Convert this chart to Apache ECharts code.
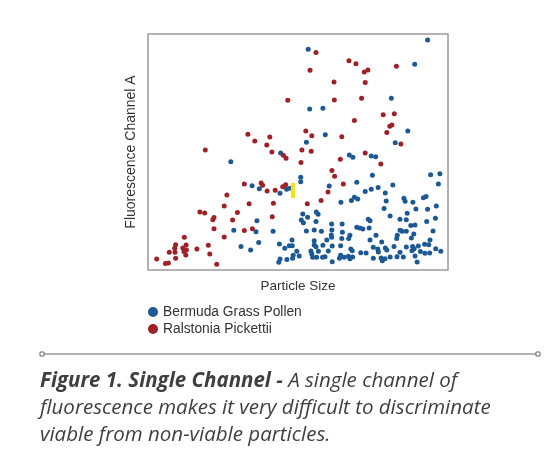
<!DOCTYPE html>
<html>
<head>
<meta charset="utf-8">
<script src="https://cdn.jsdelivr.net/npm/echarts@6/dist/echarts.min.js"></script>
<style>
html,body{margin:0;padding:0;background:#fff;}
#chart{width:558px;height:463px;}
</style>
</head>
<body>
<div id="chart"></div>
<script>
// Series names
var seriesNames = ['Bermuda Grass Pollen', 'Ralstonia Pickettii'];
var axisNames = ['Particle Size', 'Fluorescence Channel A'];

// [particle size, fluorescence] on an unlabeled 0-100 scale
var bermudaPoints = [
[44.2,49.6],[93.2,97.5],[53.4,93.5],[88.9,87.2],[81.1,72.8],[53.9,68.2],[58.3,68.5],[86.6,58.9],[59.1,57.3],[52.8,54.1],
[82.4,53.9],[67.1,48.7],[68.3,47.8],[74.4,48.3],[75.9,48.0],[27.6,45.9],[34.7,35.7],[37.1,34.4],[44.0,32.5],[46.2,34.2],
[47.3,34.6],[36.3,20.9],[28.6,16.8],[36.0,16.2],[41.7,16.4],[36.9,11.7],[31.0,10.0],[34.2,8.5],[43.8,11.0],[45.6,9.2],
[47.1,10.3],[48.1,10.3],[48.0,12.7],[49.6,7.9],[48.4,6.2],[44.0,4.7],[43.6,3.3],[46.3,4.5],[48.2,5.0],[50.4,5.9],
[74.8,40.1],[50.9,39.3],[50.9,37.4],[94.2,40.4],[97.3,40.8],[96.8,36.4],[69.6,37.2],[60.4,35.6],[81.6,36.0],[76.7,35.0],
[74.4,34.2],[72.4,33.3],[79.1,32.6],[68.8,30.8],[67.8,29.5],[69.9,30.1],[64.3,28.7],[85.3,30.4],[85.7,29.1],[79.4,29.2],
[91.8,30.6],[92.7,31.1],[88.3,28.7],[96.1,27.1],[78.7,26.1],[89.3,25.8],[93.2,25.7],[86.4,24.0],[80.7,22.9],[51.6,23.7],
[56.1,24.6],[56.7,23.6],[53.2,22.3],[51.1,21.2],[51.8,20.0],[56.0,20.6],[61.2,19.5],[64.7,19.5],[73.4,21.5],[74.0,20.9],
[84.0,21.5],[86.1,21.3],[95.8,21.9],[92.9,20.6],[87.6,18.9],[89.0,19.1],[69.6,18.1],[70.6,17.8],[71.6,17.4],[73.7,17.8],
[52.8,16.5],[55.4,16.9],[57.8,16.4],[61.3,16.9],[64.8,16.0],[61.1,14.8],[61.2,13.9],[67.3,14.7],[76.0,14.7],[84.0,16.8],
[84.7,16.4],[86.1,16.4],[83.1,14.7],[88.6,15.3],[95.0,16.5],[87.8,13.6],[82.9,13.4],[64.6,13.3],[66.9,13.4],[59.6,12.7],
[74.0,12.7],[77.9,11.9],[55.4,12.4],[94.0,12.7],[55.4,10.6],[56.0,9.9],[58.3,10.5],[61.4,10.2],[64.2,10.3],[75.1,9.6],
[76.6,8.9],[79.1,9.3],[82.0,10.0],[86.1,9.7],[88.2,10.0],[90.1,10.2],[92.2,10.9],[93.6,10.7],[95.9,9.0],[97.6,7.9],
[88.7,9.0],[88.0,8.2],[54.3,8.1],[56.8,7.9],[60.1,8.1],[67.6,8.9],[68.1,8.2],[70.9,7.3],[72.7,7.2],[76.8,7.6],
[79.6,8.5],[83.0,5.6],[84.0,7.5],[90.8,7.8],[92.3,7.1],[93.9,7.2],[54.6,6.8],[54.9,5.4],[56.2,5.4],[58.2,5.4],
[59.0,5.6],[64.2,6.2],[63.8,5.0],[65.4,5.4],[66.8,5.8],[67.3,4.8],[68.2,5.5],[75.1,5.0],[77.7,5.1],[79.0,4.8],
[80.7,5.5],[85.1,5.5],[89.0,5.9],[89.7,3.4],[61.4,3.5],[78.1,3.9]
];

var ralstoniaPoints = [
[46.6,71.9],[33.3,57.5],[35.6,54.7],[40.6,56.4],[39.6,53.0],[41.3,50.0],[19.1,50.8],[45.1,48.6],[46.0,47.3],[56.0,92.2],
[67.0,88.7],[69.3,87.4],[82.8,86.3],[54.0,84.6],[72.1,83.9],[73.3,84.7],[62.0,79.7],[72.4,79.5],[62.1,72.0],[71.2,72.8],
[78.4,65.8],[82.1,66.2],[68.8,63.3],[80.6,60.9],[81.3,61.4],[52.6,58.9],[54.6,56.9],[64.6,56.5],[79.6,58.3],[84.3,53.4],
[51.3,50.8],[54.4,50.3],[72.4,49.6],[64.1,46.9],[32.1,36.4],[37.7,36.9],[38.2,35.9],[39.7,33.5],[42.4,33.8],[44.9,35.3],
[45.9,36.1],[26.3,31.8],[25.4,27.1],[33.7,28.1],[41.8,28.3],[17.3,24.6],[18.9,24.2],[29.8,24.4],[22.0,22.2],[21.6,21.3],
[28.2,21.2],[41.4,22.6],[22.0,17.5],[32.1,16.7],[34.8,17.5],[25.4,14.0],[12.1,13.9],[9.2,10.7],[12.7,10.6],[20.1,10.5],
[8.9,9.2],[11.6,9.3],[16.3,8.9],[12.8,8.5],[7.1,7.5],[9.0,7.5],[12.0,7.8],[12.6,6.4],[20.6,6.8],[9.2,5.0],
[2.9,4.7],[6.8,3.0],[5.8,2.8],[22.9,2.4],[51.0,45.6],[77.6,44.9],[61.3,42.2],[62.2,39.7],[65.1,36.4],[60.0,33.1],
[53.1,28.1],[57.7,29.5]
];

// highlighted (yellow) marker
var highlightPoints = [[48.3,33.7]];

var blue = '#1c5894';
var red = '#9f2127';

var chart = echarts.init(document.getElementById('chart'));
chart.setOption({
  animation: false,
  backgroundColor: '#fff',
  grid: {left: 148, top: 34, width: 300, height: 236, show: true, borderColor: '#9a9a9a', borderWidth: 1.5, backgroundColor: '#fff'},
  xAxis: {
    type: 'value', min: 0, max: 100,
    name: axisNames[0], nameLocation: 'middle', nameGap: 9,
    nameTextStyle: {fontFamily: 'Liberation Sans', fontSize: 13.5, color: '#333'},
    axisLine: {show: false}, axisTick: {show: false}, axisLabel: {show: false}, splitLine: {show: false}
  },
  yAxis: {
    type: 'value', min: 0, max: 100,
    name: axisNames[1], nameLocation: 'middle', nameGap: 10,
    nameTextStyle: {fontFamily: 'Liberation Sans', fontSize: 14, color: '#333'},
    axisLine: {show: false}, axisTick: {show: false}, axisLabel: {show: false}, splitLine: {show: false}
  },
  legend: {
    data: seriesNames, orient: 'vertical', left: 148, top: 305, padding: 0,
    icon: 'circle', itemWidth: 10, itemHeight: 10, itemGap: 3,
    textStyle: {fontFamily: 'Liberation Sans', fontSize: 13.8, color: '#333'}
  },
  series: [
    {name: seriesNames[0], type: 'scatter', data: bermudaPoints, symbolSize: 5, itemStyle: {color: blue, opacity: 1}},
    {name: seriesNames[1], type: 'scatter', data: ralstoniaPoints, symbolSize: 5, itemStyle: {color: red, opacity: 1}},
    {name: 'highlight', type: 'scatter', data: highlightPoints, symbol: 'rect', symbolSize: [4, 15], itemStyle: {color: '#f5e30f', opacity: 1}, z: 5}
  ],
  graphic: [
    {type: 'line', shape: {x1: 42, y1: 354, x2: 538, y2: 354}, style: {stroke: '#666', lineWidth: 1}},
    {type: 'rect', shape: {x: 40, y: 352, width: 4, height: 4}, style: {stroke: '#666', fill: '#fff', lineWidth: 1}},
    {type: 'rect', shape: {x: 536, y: 352, width: 4, height: 4}, style: {stroke: '#666', fill: '#fff', lineWidth: 1}},
    {type: 'text', left: 40, top: 371, style: {
      text: '{b|Figure 1. Single Channel -}{i| A single channel of}\n{i|fluorescence makes it very difficult to discriminate}\n{i|viable from non-viable particles.}',
      rich: {
        b: {fontFamily: 'Open Sans', fontStyle: 'italic', fontWeight: 'bold', fontSize: 20.5, lineHeight: 27, fill: '#3f3f3f'},
        i: {fontFamily: 'Open Sans', fontStyle: 'italic', fontSize: 20.5, lineHeight: 27, fill: '#3f3f3f'}
      }
    }}
  ]
});
</script>
</body>
</html>
